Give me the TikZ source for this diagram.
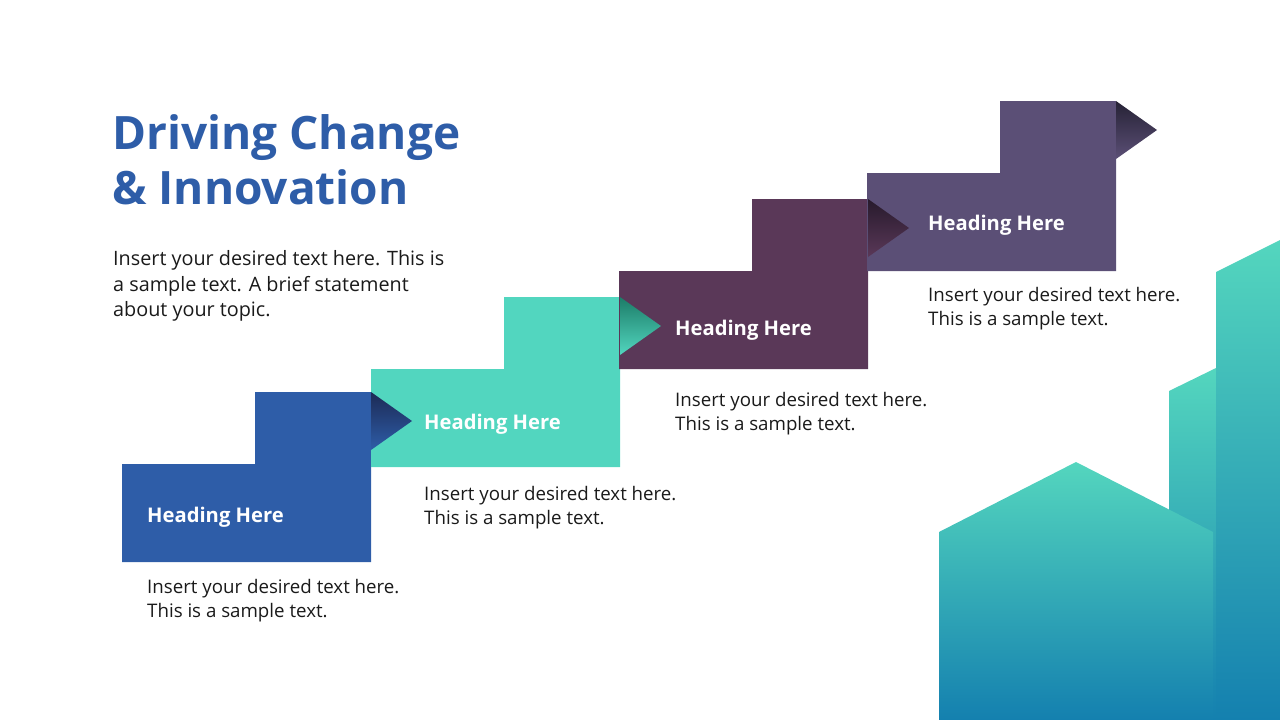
\documentclass[tikz,border=0pt]{standalone}
\usepackage{fontspec}
\setmainfont{Open Sans}
\definecolor{stepblue}{HTML}{2E5DA8}
\definecolor{stepteal}{HTML}{52D6BF}
\definecolor{stepplum}{HTML}{5A3858}
\definecolor{steppurple}{HTML}{5B4F76}
\definecolor{tipblue}{HTML}{1C2A55}
\definecolor{tipteal}{HTML}{1C7C68}
\definecolor{tipplum}{HTML}{271A2C}
\definecolor{tippurple}{HTML}{262235}
\definecolor{bldteal}{HTML}{54D6BE}
\definecolor{bldblue}{HTML}{1480AF}
\definecolor{bodytext}{HTML}{1A1A1A}

\begin{document}
\begin{tikzpicture}[x=1pt,y=-1pt,
    headtext/.style={anchor=west, inner sep=0pt, text=white, font=\fontsize{20.2}{24}\selectfont\bfseries},
    desctext/.style={anchor=west, inner sep=0pt, align=left, text=bodytext, font=\fontsize{18.7}{24}\selectfont}]
        % Define the dimensions of a step
        \def\lowwidth{249} % Width of the lower box
        \def\lowheight{98} % Height of the lower box
        \def\upshift{133} % Where the upper box starts
        \def\upheight{72} % Height of the upper box
        \def\tiplength{41} % Length of the arrow tip

        \useasboundingbox (0,0) rectangle (1280,720);

        % Draw the buildings in the corner
        \shade[top color=bldteal, bottom color=bldblue] (1169,391) -- (1216,368) -- (1216,720) -- (1169,720) -- cycle;
        \shade[top color=bldteal, bottom color=bldblue] (1216,272) -- (1280,240) -- (1280,720) -- (1216,720) -- cycle;
        \shade[top color=bldteal, bottom color=bldblue] (939,532) -- (1076,462) -- (1213,532) -- (1213,720) -- (939,720) -- cycle;

        % Draw the steps
        \foreach \x/\y/\col in {122/464/stepblue, 371/369/stepteal, 619/271/stepplum, 867/173/steppurple} {
            \fill[\col] (\x,\y) -- (\x+\upshift,\y) -- (\x+\upshift,\y-\upheight) -- (\x+\lowwidth,\y-\upheight)
                -- (\x+\lowwidth,\y+\lowheight) -- (\x,\y+\lowheight) -- cycle;
        }

        % Add the arrow tips on top of the next step
        \foreach \x/\y/\col/\tip in {122/464/stepblue/tipblue, 371/369/stepteal/tipteal, 619/271/stepplum/tipplum, 867/173/steppurple/tippurple} {
            \shade[top color=\tip, bottom color=\col] (\x+\lowwidth,\y-\upheight) -- (\x+\lowwidth+\tiplength,\y-\upheight+29)
                -- (\x+\lowwidth,\y-\upheight+58) -- cycle;
        }

        % Add the headings and the text below each step
        \foreach \hx/\hy/\n in {147/517/1, 424/424/2, 675/330/3, 928/225/4} {
            \node[headtext] (head\n) at (\hx,\hy) {Heading Here};
            \node[desctext] (desc\n) at (\hx,\hy+84) {Insert your desired text here.\\This is a sample text.};
        }

        % Add title and intro
        \node[anchor=west, inner sep=0pt, align=left, text=stepblue, font=\fontsize{46}{55}\selectfont\bfseries] (title) at (112,160) {Driving Change\\\& Innovation};
        \node[anchor=west, inner sep=0pt, align=left, text=bodytext, font=\fontsize{19.8}{25.5}\selectfont] (intro) at (113,286) {Insert your desired text here. This is\\a sample text. A brief statement\\about your topic.};
    \end{tikzpicture}
\end{document}
